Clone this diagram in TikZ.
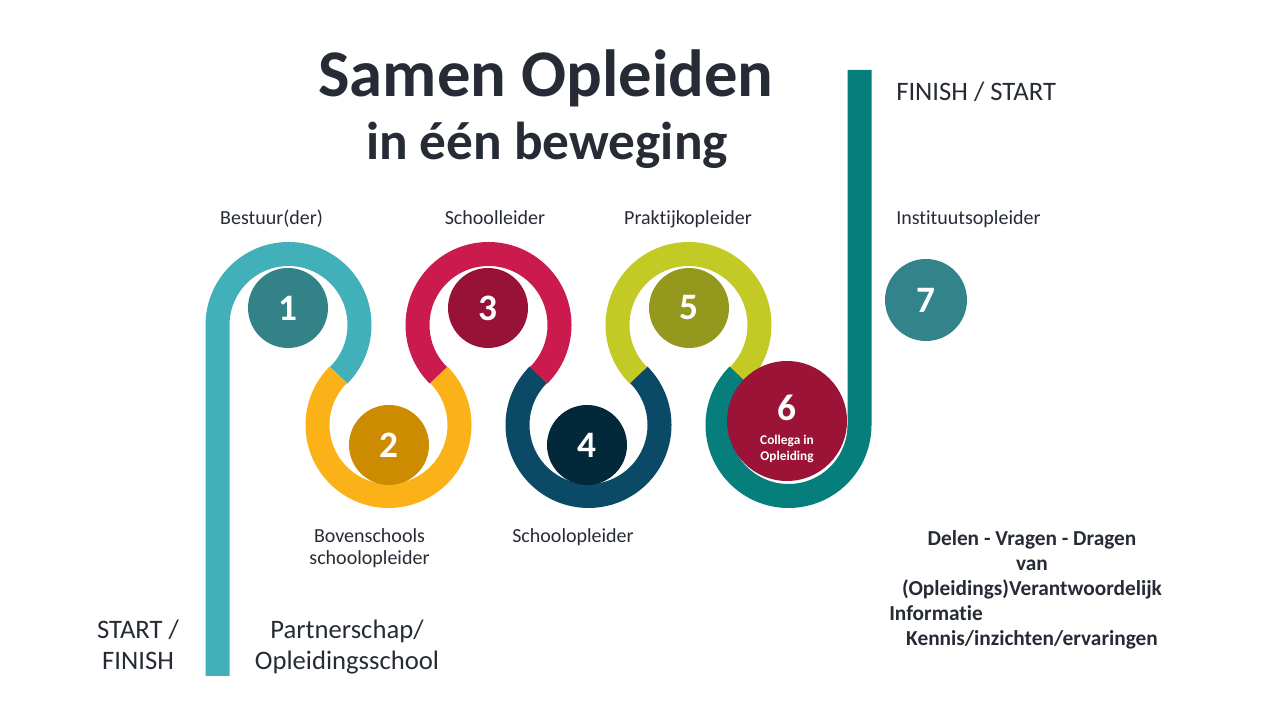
\documentclass[tikz,border=0pt]{standalone}
\usepackage{fontspec}
\setmainfont{Carlito}[Ligatures=NoCommon]
\definecolor{ink}{HTML}{262B36}
\definecolor{trackA}{HTML}{42B0B8}
\definecolor{trackB}{HTML}{FBB219}
\definecolor{trackC}{HTML}{CB1B4E}
\definecolor{trackD}{HTML}{0B4A66}
\definecolor{trackE}{HTML}{C3CA26}
\definecolor{trackF}{HTML}{057E7C}
\definecolor{dotA}{HTML}{328287}
\definecolor{dotB}{HTML}{CC8B00}
\definecolor{dotC}{HTML}{981237}
\definecolor{dotD}{HTML}{02283A}
\definecolor{dotE}{HTML}{94991E}
\definecolor{dotF}{HTML}{9B1438}
\definecolor{dotG}{HTML}{33838A}
\tikzstyle{every node}=[inner sep=0pt]
\tikzstyle{track}=[line width=18pt]
\tikzstyle{stop}=[circle,minimum size=60pt,text=white,font=\fontsize{28}{30}\selectfont\bfseries]
\tikzstyle{role}=[anchor=base,text=ink,align=center,font=\fontsize{15}{16.5}\selectfont]
\tikzstyle{note}=[anchor=base,text=ink,align=center,font=\fontsize{20}{23.25}\selectfont]
\tikzstyle{motto}=[anchor=base,text=ink,align=center,font=\fontsize{16}{18.75}\selectfont\bfseries]

\begin{document}
\begin{tikzpicture}[x=0.75pt,y=0.75pt]
\useasboundingbox (0,0) rectangle (1280,720);

% centres of the loops
\coordinate (l_1) at (288.5,395);
\coordinate (l_2) at (388.5,295);
\coordinate (l_3) at (488.5,395);
\coordinate (l_4) at (588.5,295);
\coordinate (l_5) at (688.5,395);
\coordinate (l_6) at (788.5,295);
\coordinate (start)  at (217.5,44);
\coordinate (finish) at (859.5,650);

% the track
\draw[track,trackA] (start) -- (start |- l_1) arc[start angle=180,end angle=-45,radius=71];
\draw[track,trackB] (l_2) ++(135:71) arc[start angle=135,end angle=405,radius=71];
\draw[track,trackC] (l_3) ++(225:71) arc[start angle=225,end angle=-45,radius=71];
\draw[track,trackD] (l_4) ++(135:71) arc[start angle=135,end angle=405,radius=71];
\draw[track,trackE] (l_5) ++(225:71) arc[start angle=225,end angle=-45,radius=71];
\draw[track,trackF] (l_6) ++(135:71) arc[start angle=135,end angle=360,radius=71] -- (finish);

% stops
\node[stop,fill=dotA] (s_1) at (288,412) {1};
\node[stop,fill=dotB] (s_2) at (389,275) {2};
\node[stop,fill=dotC] (s_3) at (488,412) {3};
\node[stop,fill=dotD] (s_4) at (587,275) {4};
\node[stop,fill=dotE] (s_5) at (689,412) {5};
\node[stop,fill=dotF,minimum size=90pt] (s_6) at (787,299) {};
\node[anchor=base,align=center,text=white,font=\fontsize{10}{12}\selectfont\bfseries]
  (s_6text) at (787,259) {{\fontsize{28}{30}\selectfont 6}\\[6pt]Collega in\\Opleiding};
\node[stop,fill=dotG,minimum size=61.5pt] (s_7) at (926,420) {7};

% title
\node[anchor=base,text=ink,font=\fontsize{50}{60}\selectfont\bfseries] (title) at (546,623) {Samen Opleiden};
\node[anchor=base,text=ink,font=\fontsize{40}{48}\selectfont\bfseries] (subtitle) at (547,560) {in één beweging};

% roles
\node[role] (bestuur)        at (271.5,495) {Bestuur(der)};
\node[role] (schoolleider)   at (495,495)   {Schoolleider};
\node[role] (praktijk)       at (688,495)   {Praktijkopleider};
\node[role,anchor=base west] (instituut) at (896,495) {Instituutsopleider};
\node[role] (bovenschools)   at (369.5,155) {Bovenschools\\schoolopleider};
\node[role] (schoolopleider) at (573,177)   {Schoolopleider};

% start and finish
\node[note,anchor=base west] (finishlabel) at (896,619) {FINISH / START};
\node[note] (startlabel) at (138,50) {START /\\FINISH};
\node[note] (partner)    at (347,50) {Partnerschap/\\Opleidingsschool};

% motto
\node[motto] (delen)  at (1032,124) {Delen - Vragen - Dragen\\van\\(Opleidings)Verantwoordelijk};
\node[motto,anchor=base west] (info) at (889,99) {Informatie};
\node[motto] (kennis) at (1032,74) {Kennis/inzichten/ervaringen};
\end{tikzpicture}
\end{document}
